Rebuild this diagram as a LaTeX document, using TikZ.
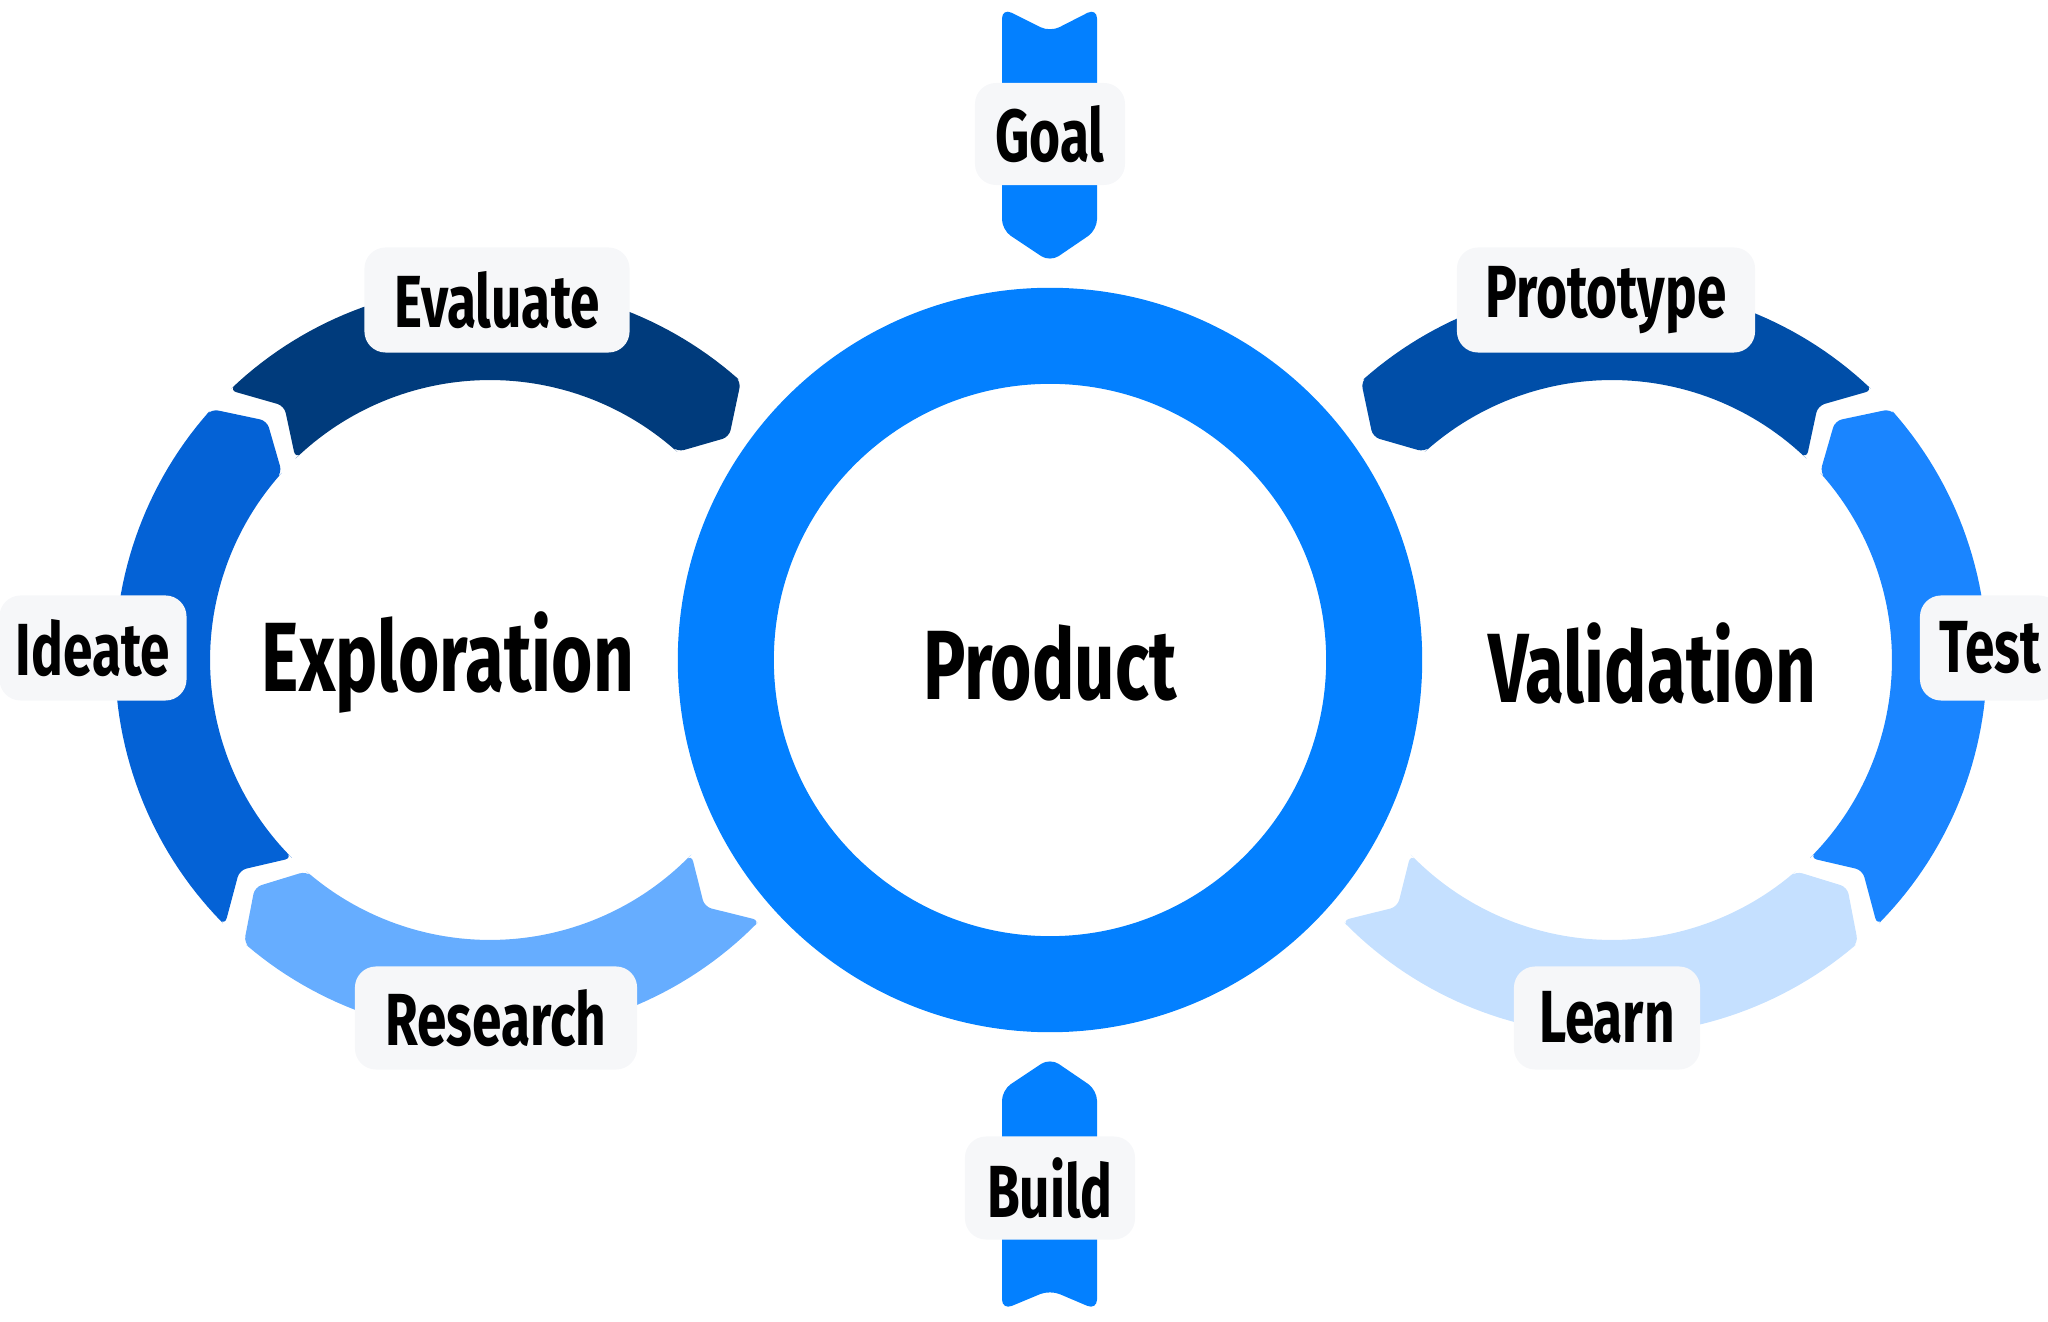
\documentclass[tikz,border=0pt]{standalone}
\usepackage{fontspec}
\setmainfont{Fira Sans}[FakeStretch=0.72]
\definecolor{cmain}{HTML}{0380FF}
\definecolor{ltop}{HTML}{003B7C}
\definecolor{lleft}{HTML}{0462D6}
\definecolor{lbot}{HTML}{66ADFF}
\definecolor{rtop}{HTML}{004EA8}
\definecolor{rright}{HTML}{1A85FF}
\definecolor{rbot}{HTML}{C5E0FF}
\definecolor{boxc}{HTML}{F6F7F9}
\newcommand\seg[6]{\fill[#6, rounded corners=2pt] plot[domain=#3:#4,samples=60] ({#1+375*cos(\x)},{#2-375*sin(\x)}) -- ({#1+327*cos(#4+#5*5)},{#2-327*sin(#4+#5*5)}) -- plot[domain=#4:#3,samples=60] ({#1+280*cos(\x)},{#2-280*sin(\x)}) -- ({#1+327*cos(#3+#5*5)},{#2-327*sin(#3+#5*5)}) -- cycle;}
\tikzset{
 lbl/.style={fill=boxc, rounded corners=6pt, font=\bfseries\fontsize{21}{24}\selectfont, text=black, inner sep=0pt, anchor=center},
 big/.style={font=\bfseries\fontsize{28}{32}\selectfont, text=black}
}
\begin{document}
\begin{tikzpicture}[x=0.01cm,y=-0.01cm]
\useasboundingbox (0,0) rectangle (2048,1322);
% center ring
\fill[cmain, even odd rule] (1050,660) circle[radius=3.72cm] (1050,660) circle[radius=2.76cm];
% ribbons
\fill[cmain, rounded corners=3pt] (1002,8) -- (1050,32) -- (1097,8) -- (1097,230) -- (1050,262) -- (1002,230) -- cycle;
\fill[cmain, rounded corners=3pt] (1002,1090) -- (1050,1058) -- (1097,1090) -- (1097,1310) -- (1050,1290) -- (1002,1310) -- cycle;
% left ring (clockwise)
\seg{490}{660}{316}{229}{-1}{lbot}
\seg{490}{660}{225}{138}{-1}{lleft}
\seg{490}{660}{134}{48}{-1}{ltop}
% right ring (counterclockwise)
\seg{1612}{660}{224}{311}{1}{rbot}
\seg{1612}{660}{315}{402}{1}{rright}
\seg{1612}{660}{406}{492}{1}{rtop}
% labels
\node[lbl, minimum width=2.65cm, minimum height=1.05cm] (evaluate) at (497,300) {Evaluate};
\node[lbl, minimum width=2.98cm, minimum height=1.05cm] (prototype) at (1606,300) {Prototype};
\node[lbl, minimum width=1.87cm, minimum height=1.05cm] (ideate) at (93,648) {Ideate};
\node[lbl, minimum width=1.40cm, minimum height=1.05cm] (test) at (1990,648) {Test};
\node[lbl, minimum width=2.82cm, minimum height=1.03cm] (research) at (496,1018) {Research};
\node[lbl, minimum width=1.86cm, minimum height=1.03cm] (learn) at (1607,1018) {Learn};
\node[lbl, minimum width=1.50cm, minimum height=1.02cm] (goal) at (1050,134) {Goal};
\node[lbl, minimum width=1.70cm, minimum height=1.03cm] (build) at (1050,1188) {Build};
\node[big] (exploration) at (448,663) {Exploration};
\node[big] (product) at (1050,663) {Product};
\node[big] (validation) at (1652,663) {Validation};
\end{tikzpicture}
\end{document}
